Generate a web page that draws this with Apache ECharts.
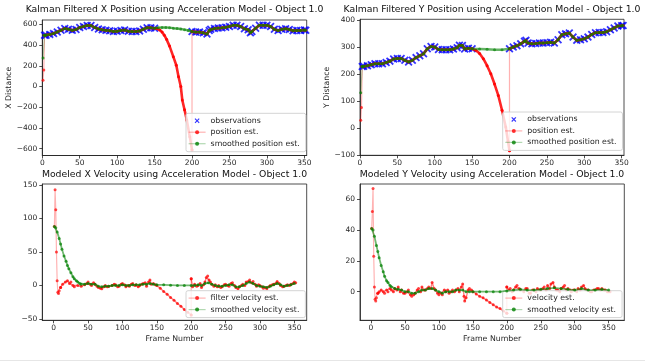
<!DOCTYPE html>
<html><head><meta charset="utf-8">
<script src="https://cdn.jsdelivr.net/npm/echarts@6/dist/echarts.min.js"></script>
<style>html,body{margin:0;padding:0;background:#fff}#c{width:645px;height:364px}</style>
</head><body><div id="c"></div>
<script>
// ---------- tick labels ----------
const frameTicks = [0,50,100,150,200,250,300,350];
const posXTicks = [-600,-400,-200,0,200,400,600];
const posYTicks = [-100,0,100,200,300,400];
const velXTicks = [-50,0,50,100,150];
const velYTicks = [0,20,40,60];

// ---------- X position ----------
const posXObs1 = [[3,495],[5,495],[10,503],[15,511],[20,527],[25,543],[30,560],[35,553],[40,542],[45,550],[50,570],[55,580],[60,590],[65,588],[70,570],[75,556],[80,547],[85,543],[90,539],[95,531],[100,534],[105,540],[110,545],[115,534],[120,531],[125,530],[130,537],[135,553],[140,568],[145,566],[150,563]];
const posXObs2 = [[200,530],[205,525],[210,525],[215,518],[220,506],[223,540],[225,553],[230,561],[235,564],[240,566],[245,572],[250,580],[255,592],[260,592],[265,579],[270,558],[275,548],[278,518],[280,531],[285,563],[290,592],[295,592],[300,592],[305,580],[310,553],[315,540],[320,552],[325,558],[330,550],[335,539],[340,540],[345,540],[350,545],[352,543]];
const posXEstStart = [[1,60],[2,160]];
const posXEstPred = [[153,560],[157,545],[160,525],[163,495],[166,455],[170,390],[175,288],[179,205],[182,95],[185,0],[187,-130],[190,-225],[193,-323],[197,-484],[200,-612]];
const posXSmoothStart = [[1,275]];
const posXSmoothGap = [[155,568],[160,569],[165,570],[170,568],[175,563],[180,560],[185,555],[190,549],[195,541]];

// ---------- Y position ----------
const posYObs1 = [[3,227],[5,228],[10,230],[15,234],[20,237],[25,237],[30,237],[35,242],[40,247],[45,255],[50,257],[55,257],[60,250],[65,244],[70,250],[75,260],[80,267],[85,274],[90,293],[95,301],[100,299],[105,290],[110,289],[115,289],[120,289],[125,292],[130,297],[133,306],[137,305],[140,292],[145,295],[150,293]];
const posYObs2 = [[200,293],[205,299],[210,304],[215,311],[220,321],[222,324],[225,314],[230,311],[235,312],[240,314],[245,314],[250,315],[255,317],[260,314],[265,326],[270,345],[275,348],[280,351],[285,336],[290,324],[295,326],[300,330],[305,336],[310,346],[315,352],[320,353],[325,353],[330,356],[335,363],[340,370],[345,377],[350,378],[352,379]];
const posYEstStart = [[1,28],[2,75]];
const posYEstPred = [[155,287],[160,275],[165,256],[170,230],[175,200],[180,162],[185,120],[190,65],[195,3],[198,-50],[200,-85]];
const posYSmoothStart = [[1,130]];
const posYSmoothGap = [[160,292],[170,291],[180,289],[190,289]];

// ---------- X velocity ----------
const velXEstStart = [[1,88],[2,143],[3,113],[4,50],[5,7],[6,-10],[7,-12],[8,-8],[10,-3]];
const velXEstMid = [[10,-3],[13,2],[17,5],[20,7],[23,3],[25,5],[28,0],[30,-2],[35,0],[40,-1],[45,1],[48,3],[50,5],[53,2],[55,0],[58,4],[60,2],[63,-1],[65,-3],[68,-4],[70,-5],[73,-2],[75,0],[78,-2],[80,-1],[85,0],[88,2],[90,1],[93,-2],[95,-1],[98,2],[100,3],[103,1],[105,-2],[108,0],[110,-1],[113,2],[115,3],[118,0],[120,1],[123,-2],[125,0],[128,2],[130,3],[133,4],[135,-1],[138,5],[140,8],[142,2],[145,3],[148,1],[150,0],
 [155,-4],[160,-9],[165,-13],[170,-18],[175,-22],[180,-27],[185,-31],[190,-36],[195,-40],[200,-44]];
const velXEstEnd = [[200,10],[202,-2],[205,2],[208,-1],[210,0],[213,3],[215,-3],[218,1],[220,5],[222,12],[224,14],[226,8],[228,5],[230,2],[233,-1],[235,1],[238,-2],[240,0],[243,-3],[245,-2],[248,1],[250,2],[253,0],[255,-1],[258,3],[260,4],[263,0],[265,-3],[268,-5],[270,-2],[273,0],[275,2],[278,0],[280,5],[283,6],[285,8],[288,4],[290,6],[293,2],[295,-1],[298,1],[300,0],[303,-2],[305,-4],[308,-3],[310,-5],[313,-2],[315,0],[318,1],[320,2],[323,3],[325,6],[328,3],[330,0],[333,-2],[335,-1],[338,0],[340,1],[343,0],[345,2],[348,3],[350,5],[352,4]];
const velXSmooth = [[1,88],[3,86],[5,80],[8,70],[10,62],[12,54],[15,44],[18,36],[20,30],[22,25],[25,19],[28,13],[30,10],[33,7],[35,5],[38,3],[40,2],[45,2],[50,3],[55,2],[60,2],[65,-1],[70,-2],[75,-1],[80,-1],[85,0],[90,0],[95,0],[100,1],[105,0],[110,0],[115,1],[120,1],[125,1],[130,2],[135,2],[140,3],[145,2],[150,1],[160,1],[170,0.5],[180,0],[190,0],[200,0],[205,0],[210,1],[215,0],[220,3],[225,4],[230,2],[235,0],[240,-1],[245,-1],[250,0],[255,1],[260,1],[265,-2],[270,-2],[275,0],[280,3],[285,5],[290,3],[295,0],[300,-1],[305,-2],[310,-3],[315,-1],[320,1],[325,3],[330,1],[335,-1],[340,0],[345,1],[350,3]];

// ---------- Y velocity ----------
const velYEstStart = [[1,41],[2,52],[3,67],[4,23],[5,3],[6,-5],[7,-6],[8,-4],[10,-1]];
const velYEstMid = [[10,-1],[12,0],[15,1],[18,0],[20,-1],[23,1],[25,0],[28,2],[30,1],[33,0],[35,2],[38,1],[40,3],[43,0],[45,1],[48,-1],[50,-1],[53,0],[55,1],[58,-2],[60,-3],[63,-2],[65,-1],[68,1],[70,2],[73,0],[75,3],[78,1],[80,1],[83,2],[85,3],[88,2],[90,6],[93,2],[95,1],[98,-1],[100,-2],[103,-1],[105,-2],[108,1],[110,0],[113,1],[115,-1],[118,0],[120,1],[123,0],[125,1],[128,2],[130,0],[133,3],[135,5],[137,-3],[138,-6],[140,-4],[143,1],[145,2],[148,1],[150,0],
 [155,-1.5],[160,-3],[165,-4],[170,-5.5],[175,-7],[180,-8.5],[185,-10],[190,-11],[195,-12.5],[200,-14]];
const velYEstEnd = [[200,3],[203,1],[205,2],[208,0],[210,1],[213,3],[215,4],[218,2],[220,1],[225,0],[228,2],[230,2],[233,-1],[235,-1],[238,1],[240,1],[243,0],[245,2],[248,1],[250,1],[253,2],[255,3],[258,1],[260,4],[263,2],[265,5],[268,6],[270,3],[273,1],[275,1],[278,0],[280,2],[283,3],[285,4],[288,1],[290,2],[293,1],[295,0],[298,1],[300,1],[303,0],[305,2],[308,1],[310,3],[313,4],[315,2],[318,1],[320,1],[323,0],[325,0],[328,1],[330,1],[333,2],[335,2],[338,1],[340,2],[343,1],[345,1],[348,0],[350,0],[352,0]];
const velYSmooth = [[1,41],[3,40],[5,36],[8,30],[10,26],[12,22],[15,17],[18,13],[20,10],[23,7],[25,6],[28,4],[30,3],[35,2],[40,1.5],[45,1],[50,0],[55,0],[60,-1],[65,-1],[70,0],[75,1],[80,1],[85,2],[90,2],[95,1],[100,0],[105,-1],[110,0],[115,0],[120,0],[125,1],[130,1],[135,1],[140,0],[145,0],[150,0],[160,0],[170,0],[180,0],[190,0],[200,0.5],[210,1],[220,1.5],[230,1],[240,1],[250,1.5],[260,2],[270,2.5],[280,2],[290,1.5],[300,1],[310,2],[320,1],[330,1],[340,1.5],[350,1]];

// ---------- chart ----------
const FONT = 'DejaVu Sans';
const TXT = '#262626';
const RED = '#ff0000', GREEN = '#008000';
const XMARK = 'path://M0,1.6L1.6,0L5,3.4L8.4,0L10,1.6L6.6,5L10,8.4L8.4,10L5,6.6L1.6,10L0,8.4L3.4,5Z';
const minusFmt = v => String(v).replace('-', '\u2212');
const first = a => a[0], last = a => a[a.length - 1];
const brk = a => [[first(a)[0], '-']];

const grids = [
  {left:42.3, top:20, width:264.4, height:135.5},
  {left:360, top:19.3, width:264, height:136},
  {left:42.3, top:184, width:264.4, height:136.3},
  {left:360, top:184, width:264.3, height:136.3}
];
grids.forEach(g => Object.assign(g, {show:true, borderColor:'#222', borderWidth:0.8, containLabel:false}));

function xAx(i, min, max, name) {
  return {type:'value', gridIndex:i, min, max,
    name: name || '', nameLocation:'middle', nameGap:15,
    nameTextStyle:{fontSize:7.8, color:TXT, fontFamily:FONT},
    axisLine:{show:true, onZero:false, lineStyle:{color:'#222', width:0.8}},
    axisTick:{show:true, length:3, customValues:frameTicks, lineStyle:{color:'#222', width:0.8}},
    axisLabel:{customValues:frameTicks, fontSize:7.5, color:TXT, fontFamily:FONT, margin:4, formatter:minusFmt},
    splitLine:{show:false}};
}
function yAx(i, min, max, ticks, name, gap) {
  return {type:'value', gridIndex:i, min, max,
    name: name || '', nameLocation:'middle', nameGap:gap || 28,
    nameTextStyle:{fontSize:7.8, color:TXT, fontFamily:FONT},
    axisLine:{show:true, onZero:false, lineStyle:{color:'#222', width:0.8}},
    axisTick:{show:true, length:3, customValues:ticks, lineStyle:{color:'#222', width:0.8}},
    axisLabel:{customValues:ticks, fontSize:7.5, color:TXT, fontFamily:FONT, margin:5, formatter:minusFmt},
    splitLine:{show:false}};
}

function obs(i, data) {
  return {type:'scatter', name:'observations', xAxisIndex:i, yAxisIndex:i, data,
    symbol:XMARK, symbolSize:8, itemStyle:{color:'#0000ff'}, z:2, silent:true};
}
// dense part of a track: many overlapping dots read as a thick stroke
function dense(i, name, data, color, w, lo, so, z) {
  return {type:'line', name, xAxisIndex:i, yAxisIndex:i, data, connectNulls:false,
    symbol:'circle', symbolSize:3, showSymbol:true, showAllSymbol:true,
    lineStyle:{color, width:w, opacity:lo}, itemStyle:{color, opacity:so},
    z, silent:true};
}
// faint connector segment (jumps) between sparse estimates
function conn(i, name, data, color, z) {
  return {type:'line', name, xAxisIndex:i, yAxisIndex:i, data,
    symbol:'circle', symbolSize:3, showSymbol:true, showAllSymbol:true,
    lineStyle:{color, width:1.2, opacity:0.3}, itemStyle:{color, opacity:0.7},
    z, silent:true};
}

const series = [
  // X position
  obs(0, posXObs1.concat(posXObs2)),
  conn(0, 'position est.', posXEstStart.concat([first(posXObs1)]), RED, 3),
  dense(0, 'position est.', posXObs1.concat(posXEstPred, brk(posXObs2), posXObs2), RED, 2.6, 0.85, 0.85, 3),
  conn(0, 'position est.', [last(posXEstPred), first(posXObs2)], RED, 3),
  conn(0, 'smoothed position est.', posXSmoothStart.concat([first(posXObs1)]), GREEN, 4),
  dense(0, 'smoothed position est.', posXObs1.concat(posXSmoothGap, posXObs2), GREEN, 2.4, 0.6, 0.6, 4),
  // Y position
  obs(1, posYObs1.concat(posYObs2)),
  conn(1, 'position est.', posYEstStart.concat([first(posYObs1)]), RED, 3),
  dense(1, 'position est.', posYObs1.concat(posYEstPred, brk(posYObs2), posYObs2), RED, 2.6, 0.85, 0.85, 3),
  conn(1, 'position est.', [last(posYEstPred), first(posYObs2)], RED, 3),
  conn(1, 'smoothed position est.', posYSmoothStart.concat([first(posYObs1)]), GREEN, 4),
  dense(1, 'smoothed position est.', posYObs1.concat(posYSmoothGap, posYObs2), GREEN, 2.4, 0.6, 0.6, 4),
  // X velocity
  conn(2, 'filter velocity est.', velXEstStart, RED, 3),
  dense(2, 'filter velocity est.', velXEstMid.concat(brk(velXEstEnd), velXEstEnd), RED, 1.4, 0.5, 0.75, 3),
  conn(2, 'filter velocity est.', [last(velXEstMid), first(velXEstEnd)], RED, 3),
  dense(2, 'smoothed velocity est.', velXSmooth, GREEN, 1.8, 0.55, 0.7, 4),
  // Y velocity
  conn(3, 'velocity est.', velYEstStart, RED, 3),
  dense(3, 'velocity est.', velYEstMid.concat(brk(velYEstEnd), velYEstEnd), RED, 1.4, 0.5, 0.75, 3),
  conn(3, 'velocity est.', [last(velYEstMid), first(velYEstEnd)], RED, 3),
  dense(3, 'smoothed velocity est.', velYSmooth, GREEN, 1.8, 0.55, 0.7, 4)
];

function legItem(name) {
  if (name === 'observations') return {name, itemStyle:{color:'#0000ff'}};
  const c = name.indexOf('smoothed') === 0 ? GREEN : RED;
  return {name, lineStyle:{color:c, width:1.2, opacity:0.3}, itemStyle:{color:c, opacity:0.8}};
}
function leg(left, top, names) {
  return {left, top, orient:'vertical', data:names.map(legItem), selectedMode:false,
    itemWidth:17, itemHeight:5, itemGap:1.5,
    textStyle:{fontSize:7.8, lineHeight:10, color:TXT, fontFamily:FONT},
    backgroundColor:'rgba(255,255,255,0.8)', borderColor:'#d4d4d4', borderWidth:1, borderRadius:2,
    padding:[2.4, 6, 3, 2]};
}

function ttl(text, x, y) {
  return {text, left:x, top:y, textAlign:'center', padding:0,
    textStyle:{fontSize:9.3, fontWeight:'normal', color:'#111', fontFamily:FONT}};
}

const chart = echarts.init(document.getElementById('c'), null, {renderer:'canvas'});
chart.setOption({
  animation:false,
  backgroundColor:'#ffffff',
  title:[
    ttl('Kalman Filtered X Position using Acceleration Model - Object 1.0', 174.5, 5),
    ttl('Kalman Filtered Y Position using Acceleration Model - Object 1.0', 492, 5),
    ttl('Modeled X Velocity using Acceleration Model - Object 1.0', 174.5, 170),
    ttl('Modeled Y Velocity using Acceleration Model - Object 1.0', 492, 170)
  ],
  grid: grids,
  xAxis:[xAx(0, 0, 353.2), xAx(1, 0, 353.2), xAx(2, -16.6, 368, 'Frame Number'), xAx(3, -16.2, 373, 'Frame Number')],
  yAxis:[yAx(0, -666, 642, posXTicks, 'X Distance', 27), yAx(1, -102, 402, posYTicks, 'Y Distance', 29),
         yAx(2, -52, 151.5, velXTicks), yAx(3, -18.6, 69.9, velYTicks)],
  legend:[
    leg(186, 113.3, ['observations','position est.','smoothed position est.']),
    leg(502.7, 112, ['observations','position est.','smoothed position est.']),
    leg(186, 290.7, ['filter velocity est.','smoothed velocity est.']),
    leg(502.7, 290.7, ['velocity est.','smoothed velocity est.'])
  ],
  graphic:[{type:'rect', left:0, top:360, shape:{width:645, height:1}, style:{fill:'#e6e6e6'}, silent:true}],
  series
});
</script></body></html>
